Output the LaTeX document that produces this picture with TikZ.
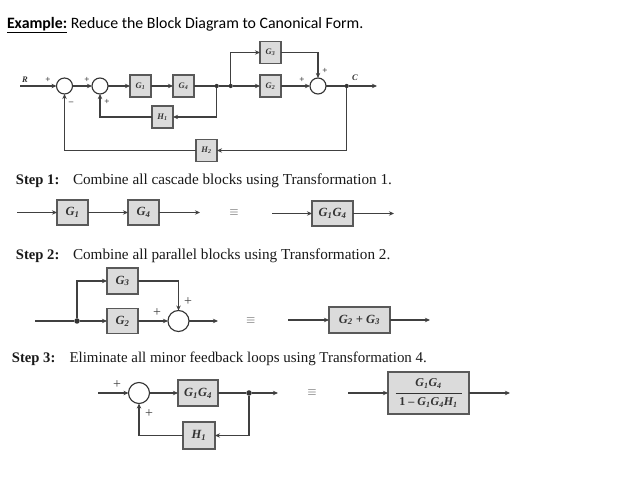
\documentclass[tikz,border=0pt]{standalone}
\usepackage{fontspec}
\setmainfont{Liberation Serif}
\newfontfamily\titlefont{Carlito}
\usetikzlibrary{arrows.meta}
\newcommand{\Gsub}[2]{\textit{#1}\textsubscript{\textit{#2}}}
\tikzset{
  x=1pt,y=-1pt,
  every node/.style={inner sep=0pt,outer sep=0pt},
  wire/.style={draw=black!75,line width=1.1pt},
  arr/.style={wire,-{Stealth[length=5pt,width=4.4pt]}},
  blockbox/.style={draw=black!65,fill=black!14,line width=1.4pt,align=center,font=\bfseries\itshape\fontsize{12.5}{14}\selectfont,text=black!80},
  smallbox/.style={blockbox,minimum width=21pt,minimum height=22pt,font=\bfseries\itshape\fontsize{8.5}{9}\selectfont},
  sumsmall/.style={draw=black!80,fill=white,circle,line width=1.1pt,minimum size=16pt},
  sumbig/.style={draw=black!80,fill=white,circle,line width=1.1pt,minimum size=21pt},
  dot/.style={circle,fill=black!80,minimum size=4.2pt},
  steplabel/.style={anchor=base west,font=\bfseries\fontsize{14.6}{16}\selectfont,text=black!90},
  steptext/.style={anchor=base west,font=\fontsize{15.2}{17}\selectfont,text=black!90},
  sign/.style={font=\fontsize{14}{14}\selectfont,text=black!75},
  signsmall/.style={font=\bfseries\fontsize{9}{9}\selectfont,text=black!75},
  eqsign/.style={font=\bfseries\fontsize{12}{12}\selectfont,text=black!75},
  lab/.style={font=\bfseries\itshape\fontsize{8.5}{9}\selectfont,text=black!80},
}
\begin{document}
\begin{tikzpicture}
\useasboundingbox[fill=white] (0,0) rectangle (638,478);

% Title
\node[anchor=base west,font=\titlefont\fontsize{15.85}{18}\selectfont] (title) at (7,28.5)
  {\underline{\textbf{Example:}} Reduce the Block Diagram to Canonical Form.};

% Main diagram
\node[sumsmall] (s1) at (64.5,86) {};
\node[sumsmall] (s2) at (100,86) {};
\node[sumsmall] (s3) at (318,86) {};
\node[smallbox] (g1) at (140.5,86) {\Gsub{G}{1}};
\node[smallbox] (g4) at (183.5,86) {\Gsub{G}{4}};
\node[smallbox] (g2) at (270.5,86) {\Gsub{G}{2}};
\node[smallbox] (g3) at (270.5,52.5) {\Gsub{G}{3}};
\node[smallbox] (h1) at (162.5,117) {\Gsub{H}{1}};
\node[smallbox] (h2) at (206.5,150.5) {\Gsub{H}{2}};
\coordinate (in) at (20,86);
\coordinate (out) at (377,86);
\node[dot] (j1) at (216.7,86) {};
\node[dot] (j2) at (230.7,86) {};
\node[dot] (j3) at (346.7,86) {};
\draw[arr] (in) -- (s1);
\draw[arr] (s1) -- (s2);
\draw[arr] (s2) -- (g1);
\draw[arr] (g1) -- (g4);
\draw[wire] (g4) -- (j1);
\draw[wire] (j1) -- (j2);
\draw[arr] (j2) -- (g2);
\draw[arr] (j2) |- (g3);
\draw[arr] (g2) -- (s3);
\draw[arr] (g3) -| (s3);
\draw[wire] (s3) -- (j3);
\draw[arr] (j3) -- (out);
\draw[arr] (j1) |- (h1);
\draw[arr] (h1) -| (s2);
\draw[arr] (j3) |- (h2);
\draw[arr] (h2) -| (s1);
\node[lab] (lr) at (25,80) {R};
\node[lab] (lc) at (355,78) {C};
\node[signsmall] (p1) at (48,80) {+};
\node[signsmall] (p2) at (87,80) {+};
\node[signsmall] (m1) at (71,103) {--};
\node[signsmall] (p3) at (107,102) {+};
\node[signsmall] (p4) at (325,71) {+};
\node[signsmall] (p5) at (302,80) {+};

% Step 1
\node[steplabel] (st1) at (16,184.5) {Step 1:};
\node[steptext] (tx1) at (73,184.5) {Combine all cascade blocks using Transformation 1.};
\node[blockbox,minimum width=31pt,minimum height=25pt] (a1) at (72.5,212.5) {\Gsub{G}{1}};
\node[blockbox,minimum width=31pt,minimum height=25pt] (a4) at (143.5,212.5) {\Gsub{G}{4}};
\coordinate (ain) at (17,212.5);
\coordinate (aout) at (200,212.5);
\draw[arr] (ain) -- (a1);
\draw[arr] (a1) -- (a4);
\draw[arr] (a4) -- (aout);
\node[eqsign] (e1) at (234,212.5) {$\equiv$};
\node[blockbox,minimum width=41pt,minimum height=25pt] (a14) at (332.5,213.5) {\Gsub{G}{1}\Gsub{G}{4}};
\coordinate (bin) at (272,213.5);
\coordinate (bout) at (394,213.5);
\draw[arr] (bin) -- (a14);
\draw[arr] (a14) -- (bout);

% Step 2
\node[steplabel] (st2) at (16,260) {Step 2:};
\node[steptext] (tx2) at (73,260) {Combine all parallel blocks using Transformation 2.};
\node[blockbox,minimum width=31pt,minimum height=26pt] (c3) at (122.5,281) {\Gsub{G}{3}};
\node[blockbox,minimum width=31pt,minimum height=25pt] (c2) at (122.5,321) {\Gsub{G}{2}};
\node[sumbig] (cs) at (178.5,321) {};
\node[dot,minimum size=5.5pt] (cj) at (77,321) {};
\coordinate (cin) at (35,321);
\coordinate (cout) at (218,321);
\draw[wire] (cin) -- (cj);
\draw[arr] (cj) -- (c2);
\draw[arr] (cj) |- (c3);
\draw[arr] (c2) -- (cs);
\draw[arr] (c3) -| (cs);
\draw[arr] (cs) -- (cout);
\node[sign] (cp1) at (188,302) {+};
\node[sign] (cp2) at (157,313) {+};
\node[eqsign] (e2) at (250.7,321) {$\equiv$};
\node[blockbox,minimum width=61pt,minimum height=26pt] (c23) at (359.5,320) {\Gsub{G}{2} + \Gsub{G}{3}};
\coordinate (din) at (288,320);
\coordinate (dout) at (430,320);
\draw[arr] (din) -- (c23);
\draw[arr] (c23) -- (dout);

% Step 3
\node[steplabel] (st3) at (12,363) {Step 3:};
\node[steptext,font=\fontsize{14.95}{17}\selectfont] (tx3) at (69.5,363) {Eliminate all minor feedback loops using Transformation 4.};
\node[sumbig] (fs) at (139,393) {};
\node[blockbox,minimum width=40pt,minimum height=26pt] (f14) at (198,393) {\Gsub{G}{1}\Gsub{G}{4}};
\node[blockbox,minimum width=32pt,minimum height=27pt] (fh) at (199,435.5) {\Gsub{H}{1}};
\node[dot,minimum size=5.5pt] (fj) at (249,393) {};
\coordinate (fin) at (98,393);
\coordinate (fout) at (278,393);
\draw[arr] (fin) -- (fs);
\draw[arr] (fs) -- (f14);
\draw[wire] (f14) -- (fj);
\draw[arr] (fj) -- (fout);
\draw[arr] (fj) |- (fh);
\draw[arr] (fh) -| (fs);
\node[sign] (fp1) at (117,385) {+};
\node[sign] (fp2) at (149,414) {+};
\node[eqsign] (e3) at (312,393) {$\equiv$};
\node[blockbox,minimum width=81pt,minimum height=42pt] (ff) at (428.5,393)
  {\fontsize{12}{13}\selectfont\Gsub{G}{1}\Gsub{G}{4}\\[-7pt]
   \rule{66pt}{0.7pt}\\[-2pt]
   \fontsize{12}{13}\selectfont\textup{1 --} \Gsub{G}{1}\Gsub{G}{4}\Gsub{H}{1}};
\coordinate (gin) at (348,393);
\coordinate (gout) at (510,393);
\draw[arr] (gin) -- (ff);
\draw[arr] (ff) -- (gout);
\end{tikzpicture}
\end{document}
